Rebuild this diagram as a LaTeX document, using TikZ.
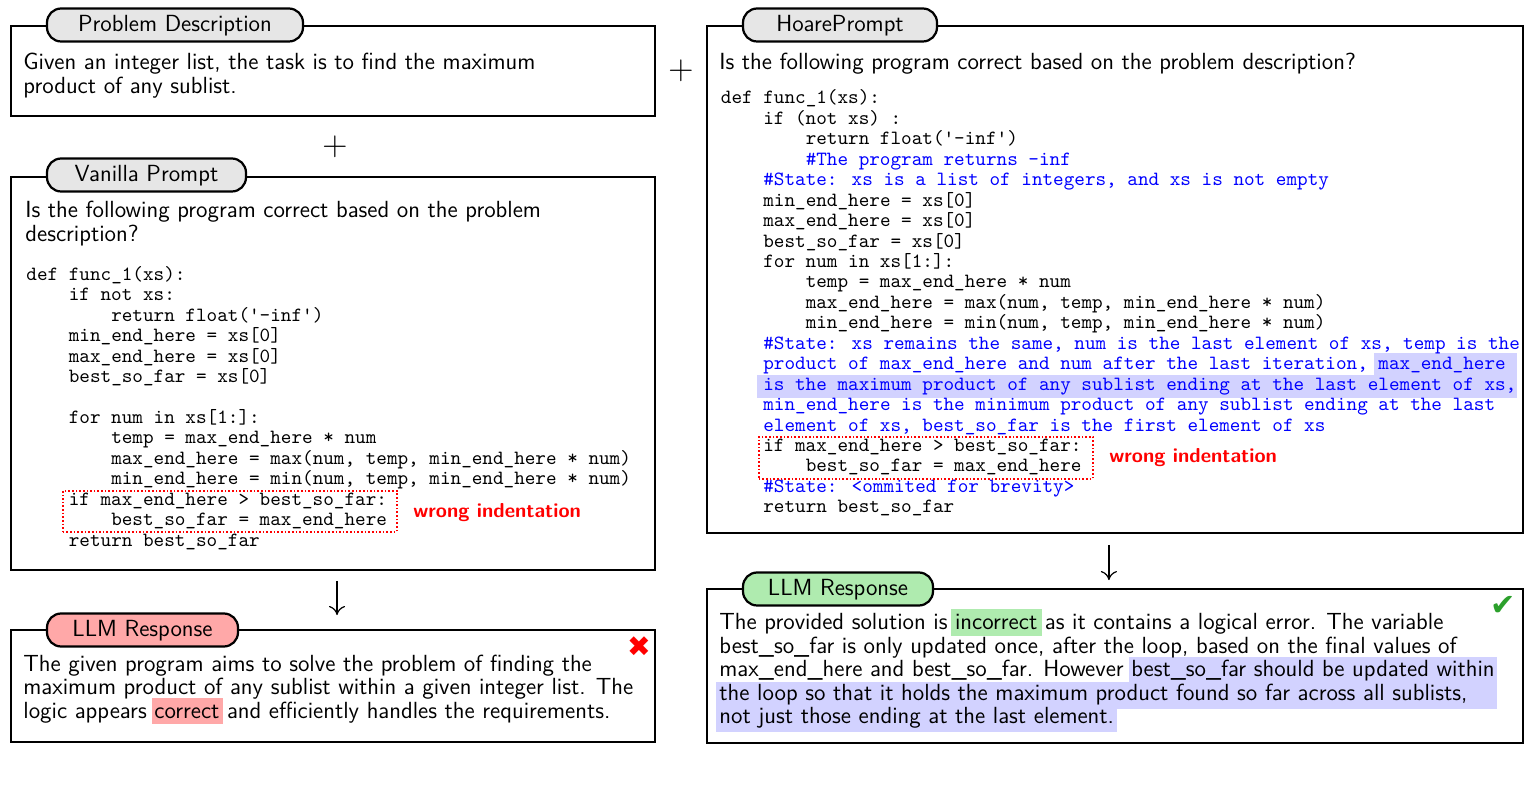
\documentclass[tikz,border=0pt]{standalone}
\usepackage{fontspec}
\usetikzlibrary{arrows.meta}
\newfontfamily\marksfont{DejaVu Sans}
\newdimen\pxu
\pxu=0.495pt
\definecolor{pillgrey}{RGB}{230,230,230}
\definecolor{pillred}{RGB}{255,168,168}
\definecolor{pillgreen}{RGB}{175,235,175}
\definecolor{hlblue}{RGB}{210,210,255}
\definecolor{codeblue}{RGB}{0,0,255}
\definecolor{markgreen}{RGB}{44,160,44}
\newcommand{\tabin}{\phantom{xxxx}}
\newcommand{\cmt}[1]{\textcolor{codeblue}{#1}}
\tikzset{
    promptbox/.style={draw,line width=1.1pt,inner sep=0pt,outer sep=0pt,anchor=north west},
    pill/.style={draw,line width=1.1pt,rounded corners=7pt,inner sep=0pt,outer sep=0pt,
        minimum height=33\pxu,text height=8.6pt,text depth=1.8pt,anchor=west,
        font=\sffamily\fontsize{11.55}{13}\selectfont},
    bodytext/.style={anchor=north west,inner sep=0pt,align=left,
        font=\sffamily\fontsize{11.55}{11.65}\selectfont},
    codetext/.style={anchor=north west,inner sep=0pt,align=left,
        font=\ttfamily\fontsize{10}{10.12}\selectfont},
    hilite/.style={inner sep=0pt,outer sep=0pt,anchor=north west},
    wrongbox/.style={draw=red,line width=0.8pt,densely dotted,inner sep=0pt,anchor=north west},
    wrongtext/.style={text=red,anchor=west,inner sep=0pt,font=\sffamily\bfseries\fontsize{10}{12}\selectfont},
    bigplus/.style={inner sep=0pt,font=\LARGE},
    thenarrow/.style={line width=0.6pt,-{To[length=4.5pt,width=8pt]}},
}
\begin{document}
\begin{tikzpicture}[x=\pxu,y=-1\pxu]
    \useasboundingbox (0,0) rectangle (1534,786);

    % problem description
    \node[promptbox,minimum width=644\pxu,minimum height=90\pxu] (problembox) at (11,26) {};
    \node[pill,fill=pillgrey,minimum width=256\pxu] (problempill) at (47,25) {Problem Description};
    \node[bodytext] (problemtext) at (23,53) {Given an integer list, the task is to find the maximum\\
        product of any sublist.};

    % plus signs
    \node[bigplus] (plusleft) at (335,147) {$+$};
    \node[bigplus] (plusright) at (681,71) {$+$};

    % vanilla prompt
    \node[promptbox,minimum width=644\pxu,minimum height=393\pxu] (vanillabox) at (11,177) {};
    \node[pill,fill=pillgrey,minimum width=199\pxu] (vanillapill) at (47,175) {Vanilla Prompt};
    \node[bodytext] (vanillatext) at (25,201) {Is the following program correct based on the problem\\
        description?};
    \node[codetext] (vanillacode) at (26,266) {def func\_1(xs):\\
        \tabin if not xs:\\
        \tabin\tabin return float('-inf')\\
        \tabin min\_end\_here = xs[0]\\
        \tabin max\_end\_here = xs[0]\\
        \tabin best\_so\_far = xs[0]\\
        \mbox{}\\
        \tabin for num in xs[1:]:\\
        \tabin\tabin temp = max\_end\_here * num\\
        \tabin\tabin max\_end\_here = max(num, temp, min\_end\_here * num)\\
        \tabin\tabin min\_end\_here = min(num, temp, min\_end\_here * num)\\
        \tabin if max\_end\_here > best\_so\_far:\\
        \tabin\tabin best\_so\_far = max\_end\_here\\
        \tabin return best\_so\_far};
    \node[wrongbox,minimum width=334\pxu,minimum height=41\pxu] (vanillawrong) at (62,490) {};
    \node[wrongtext] (vanillanote) at (413,513) {wrong indentation};

    % response on the left
    \node[promptbox,minimum width=644\pxu,minimum height=112\pxu] (badbox) at (11,630) {};
    \node[pill,fill=pillred,minimum width=191\pxu] (badpill) at (47,630) {LLM Response};
    \node[hilite,fill=pillred,minimum width=71\pxu,minimum height=26\pxu] (badhl) at (152,698) {};
    \node[bodytext] (badtext) at (23,654.5) {The given program aims to solve the problem of finding the\\
        maximum product of any sublist within a given integer list. The\\
        logic appears correct and efficiently handles the requirements.};
    \node[text=red,inner sep=0pt,font=\marksfont\fontsize{14}{14}\selectfont] (badmark) at (639,647) {\symbol{"2716}};

    % hoare prompt
    \node[promptbox,minimum width=816\pxu,minimum height=507\pxu] (hoarebox) at (707,26) {};
    \node[pill,fill=pillgrey,minimum width=194\pxu] (hoarepill) at (743,25) {HoarePrompt};
    \node[bodytext] (hoaretext) at (719,53) {Is the following program correct based on the problem description?};
    \node[hilite,fill=hlblue,minimum width=143\pxu,minimum height=22\pxu] (hoarehla) at (1374,353) {};
    \node[hilite,fill=hlblue,minimum width=760\pxu,minimum height=23\pxu] (hoarehlb) at (757,375) {};
    \node[codetext] (hoarecode) at (720.5,89.5) {def func\_1(xs):\\
        \tabin if (not xs) :\\
        \tabin\tabin return float('-inf')\\
        \tabin\tabin \cmt{\#The program returns -inf}\\
        \tabin \cmt{\#State: xs is a list of integers, and xs is not empty}\\
        \tabin min\_end\_here = xs[0]\\
        \tabin max\_end\_here = xs[0]\\
        \tabin best\_so\_far = xs[0]\\
        \tabin for num in xs[1:]:\\
        \tabin\tabin temp = max\_end\_here * num\\
        \tabin\tabin max\_end\_here = max(num, temp, min\_end\_here * num)\\
        \tabin\tabin min\_end\_here = min(num, temp, min\_end\_here * num)\\
        \tabin \cmt{\#State: xs remains the same, num is the last element of xs, temp is the}\\
        \tabin \cmt{product of max\_end\_here and num after the last iteration, max\_end\_here}\\
        \tabin \cmt{is the maximum product of any sublist ending at the last element of xs,}\\
        \tabin \cmt{min\_end\_here is the minimum product of any sublist ending at the last}\\
        \tabin \cmt{element of xs, best\_so\_far is the first element of xs}\\
        \tabin if max\_end\_here > best\_so\_far:\\
        \tabin\tabin best\_so\_far = max\_end\_here\\
        \tabin \cmt{\#State: <ommited for brevity>}\\
        \tabin return best\_so\_far};
    \node[wrongbox,minimum width=334\pxu,minimum height=42\pxu] (hoarewrong) at (758,436) {};
    \node[wrongtext] (hoarenote) at (1109,458) {wrong indentation};

    % response on the right
    \node[promptbox,minimum width=816\pxu,minimum height=154\pxu] (goodbox) at (707,589) {};
    \node[pill,fill=pillgreen,minimum width=190\pxu] (goodpill) at (743,589) {LLM Response};
    \node[hilite,fill=pillgreen,minimum width=91\pxu,minimum height=27\pxu] (goodhl) at (951,609) {};
    \node[hilite,fill=hlblue,minimum width=368\pxu,minimum height=25\pxu] (goodhla) at (1129,657) {};
    \node[hilite,fill=hlblue,minimum width=781\pxu,minimum height=27\pxu] (goodhlb) at (716,682) {};
    \node[hilite,fill=hlblue,minimum width=401\pxu,minimum height=23\pxu] (goodhlc) at (716,709) {};
    \node[bodytext] (goodtext) at (719,613) {The provided solution is incorrect as it contains a logical error. The variable\\
        best\_so\_far is only updated once, after the loop, based on the final values of\\
        max\_end\_here and best\_so\_far. However best\_so\_far should be updated within\\
        the loop so that it holds the maximum product found so far across all sublists,\\
        not just those ending at the last element.};
    \node[text=markgreen,inner sep=0pt,font=\marksfont\fontsize{15}{15}\selectfont] (goodmark) at (1503,606) {\symbol{"2714}};

    % arrows down to the responses
    \draw[thenarrow,shorten <=5.4pt,shorten >=7.4pt] ([xshift=2pt]vanillabox.south) -- ([xshift=2pt]badbox.north);
    \draw[thenarrow,shorten <=5.9pt,shorten >=4.4pt] ([xshift=-3pt]hoarebox.south) -- ([xshift=-3pt]goodbox.north);
\end{tikzpicture}
\end{document}
